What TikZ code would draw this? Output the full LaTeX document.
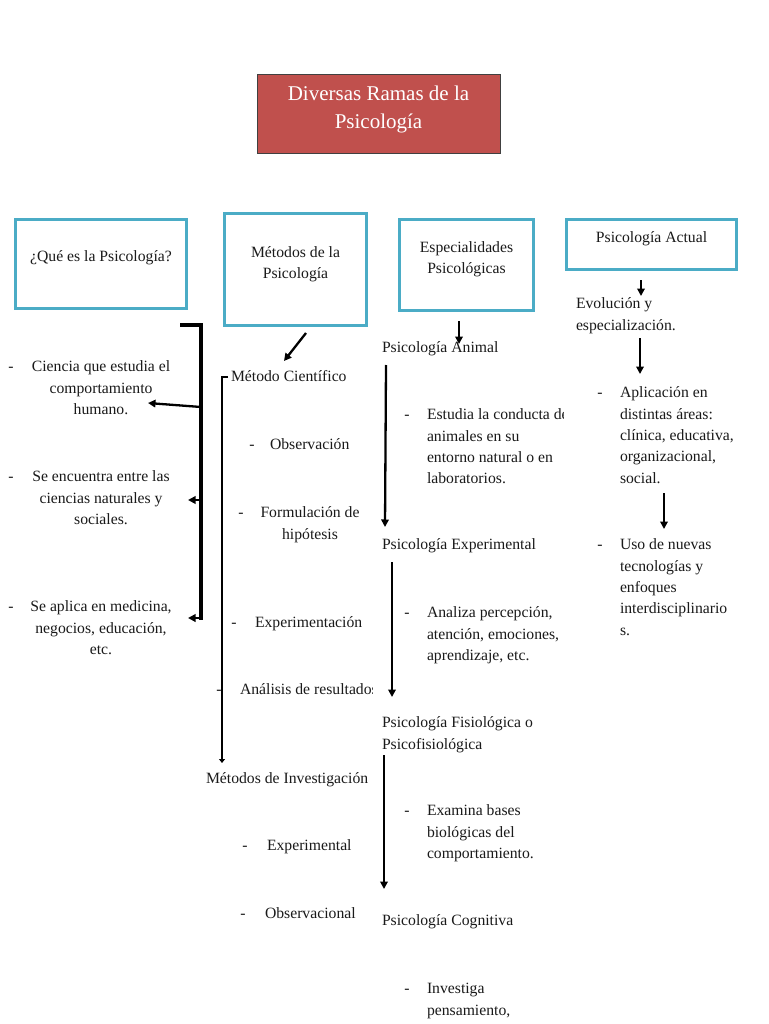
\documentclass[tikz,border=0pt]{standalone}
\usepackage{fontspec}
\setmainfont{Liberation Serif}
\usetikzlibrary{arrows.meta}
\definecolor{boxblue}{HTML}{4BACC6}
\definecolor{titlered}{HTML}{C0504D}
\definecolor{ink}{HTML}{1A1A1A}
\begin{document}
\begin{tikzpicture}[x=1pt,y=-1pt,
  every node/.style={inner sep=0pt, outer sep=0pt},
  body/.style={font=\fontsize{15.7}{21.3}\selectfont, text=ink},
  tw/.style={body, anchor=north west, align=left, yshift=9pt},
  tc/.style={body, anchor=north, align=center, yshift=9pt},
  boxtext/.style={body, align=center, anchor=center},
  bluebox/.style={draw=boxblue, line width=2.5pt, fill=white},
  arr/.style={draw=black, line width=2.3pt, -{Triangle[length=7.5pt,width=7.5pt]}},
  brk/.style={draw=black, line width=3.5pt},
  thin/.style={draw=black, line width=2.3pt}
]
\useasboundingbox[fill=white] (0,0) rectangle (768,1024);

% title
\node[fill=titlered, draw=black!75, line width=0.8pt, minimum width=243pt, minimum height=79pt] (title) at (378.5,113.5) {};
\node[font=\fontsize{21}{28}\selectfont, text=white, align=center] (titletext) at (378.5,109) {Diversas Ramas de la\\Psicología};

% header boxes
\node[bluebox, minimum width=171pt, minimum height=89pt] (b1) at (101,264) {};
\node[boxtext] (b1t) at (101,258) {¿Qué es la Psicología?};
\node[bluebox, minimum width=142pt, minimum height=112pt] (b2) at (295.5,269.5) {};
\node[boxtext] (b2t) at (295.5,264) {Métodos de la\\Psicología};
\node[bluebox, minimum width=134pt, minimum height=91pt] (b3) at (466.5,265) {};
\node[boxtext] (b3t) at (466.5,259) {Especialidades\\Psicológicas};
\node[bluebox, minimum width=170pt, minimum height=50pt] (b4) at (651.5,244.5) {};
\node[boxtext] (b4t) at (651.5,238.5) {Psicología Actual};

% column 1
\node[tc] (d11) at (11,366) {\strut-};
\node[tc] (c11) at (101,366) {\strut Ciencia que estudia el\\comportamiento\\humano.};
\node[tc] (d12) at (11,476) {\strut-};
\node[tc] (c12) at (101,476) {\strut Se encuentra entre las\\ciencias naturales y\\sociales.};
\node[tc] (d13) at (11,606) {\strut-};
\node[tc] (c13) at (101,606) {\strut Se aplica en medicina,\\negocios, educación,\\etc.};

\coordinate (bt) at (180,325);
\coordinate (bc) at (201,325);
\coordinate (bb) at (201,620);
\coordinate (br1) at (201,407);
\coordinate (br2) at (201,500);
\coordinate (br3) at (201,618);
\coordinate (e1) at (148,403);
\coordinate (e2) at (188,500);
\coordinate (e3) at (188,618);
\draw[brk] (bt) -- (bc) -- (bb);
\draw[arr] (br1) -- (e1);
\draw[arr] (br2) -- (e2);
\draw[arr] (br3) -- (e3);

% column 2
\coordinate (m0) at (306,333);
\coordinate (m1) at (284,361);
\draw[arr] (m0) -- (m1);
\node[tw] (mc) at (231,376) {\strut Método Científico};
\coordinate (lt) at (228,377);
\coordinate (lc) at (222,377);
\coordinate (lb) at (222,763);
\draw[thin, -{Triangle[length=4pt,width=6pt]}] (lt) -- (lc) -- (lb);
\node[tc] (d21) at (252,444) {\strut-};
\node[tw] (o21) at (270,444) {\strut Observación};
\node[tc] (d22) at (241,512) {\strut-};
\node[tc] (o22) at (310,512) {\strut Formulación de\\hipótesis};
\node[tc] (d23) at (234,622) {\strut-};
\node[tw] (o23) at (255,622) {\strut Experimentación};
\node[tc] (d24) at (219,689) {\strut-};
\begin{scope}
\clip (235,670) rectangle (372,710);
\node[tw] (o24) at (240,689) {\strut Análisis de resultados};
\end{scope}
\node[tw] (mi) at (206,778) {\strut Métodos de Investigación};
\node[tc] (d25) at (245,845) {\strut-};
\node[tw] (o25) at (267,845) {\strut Experimental};
\node[tc] (d26) at (243,913) {\strut-};
\node[tw] (o26) at (265,913) {\strut Observacional};

% column 3
\coordinate (s0) at (459,321);
\coordinate (s1) at (459,344);
\draw[arr] (s0) -- (s1);
\node[tw] (pa) at (382,347) {\strut Psicología Animal};
\node[tc] (d31) at (407,414) {\strut-};
\begin{scope}
\clip (420,395) rectangle (563,495);
\node[tw] (t31) at (427,414) {\strut Estudia la conducta de\\animales en su\\entorno natural o en\\laboratorios.};
\end{scope}
\coordinate (a1s) at (386,365);
\coordinate (a1e) at (385,527);
\draw[arr] (a1s) -- (a1e);
\node[tw] (pe) at (382,544) {\strut Psicología Experimental};
\node[tc] (d32) at (407,612) {\strut-};
\node[tw] (t32) at (427,612) {\strut Analiza percepción,\\atención, emociones,\\aprendizaje, etc.};
\coordinate (a2s) at (392,562);
\coordinate (a2e) at (392,697);
\draw[arr] (a2s) -- (a2e);
\node[tw] (pf) at (382,722) {\strut Psicología Fisiológica o\\Psicofisiológica};
\node[tc] (d33) at (407,810) {\strut-};
\node[tw] (t33) at (427,810) {\strut Examina bases\\biológicas del\\comportamiento.};
\coordinate (a3s) at (384,755);
\coordinate (a3e) at (384,889);
\draw[arr] (a3s) -- (a3e);
\node[tw] (pc) at (382,920) {\strut Psicología Cognitiva};
\node[tc] (d34) at (407,988) {\strut-};
\node[tw] (t34) at (427,988) {\strut Investiga\\pensamiento,};

% column 4
\coordinate (v0) at (641,280);
\coordinate (v1) at (641,296);
\draw[arr] (v0) -- (v1);
\node[tw] (ev) at (576,303) {\strut Evolución y\\especialización.};
\coordinate (v2) at (640,338);
\coordinate (v3) at (640,374);
\draw[arr] (v2) -- (v3);
\node[tc] (d41) at (600,392) {\strut-};
\node[tw] (t41) at (620,392) {\strut Aplicación en\\distintas áreas:\\clínica, educativa,\\organizacional,\\social.};
\coordinate (v4) at (664,493);
\coordinate (v5) at (664,529);
\draw[arr] (v4) -- (v5);
\node[tc] (d42) at (600,544) {\strut-};
\node[tw] (t42) at (620,544) {\strut Uso de nuevas\\tecnologías y\\enfoques\\interdisciplinario\\s.};
\end{tikzpicture}
\end{document}
